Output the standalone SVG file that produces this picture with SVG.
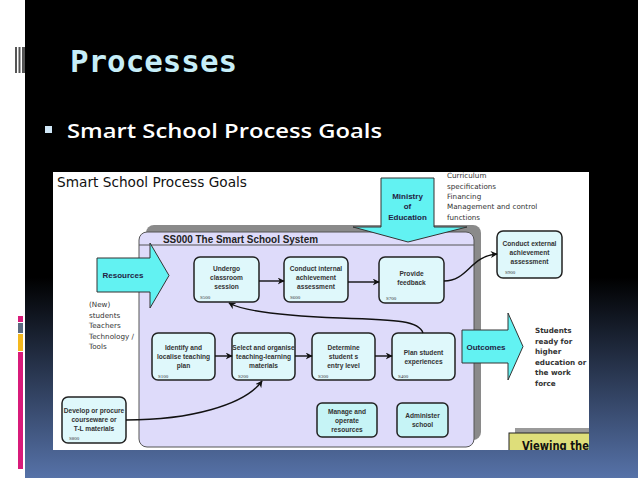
<svg xmlns="http://www.w3.org/2000/svg" width="638" height="478" viewBox="0 0 638 478">
<defs>
<linearGradient id="bg" x1="0" y1="0" x2="0" y2="478" gradientUnits="userSpaceOnUse">
<stop offset="0" stop-color="#000"/>
<stop offset="0.58" stop-color="#000"/>
<stop offset="1" stop-color="#5672a8"/>
</linearGradient>
<clipPath id="panelClip"><rect x="53" y="172" width="536" height="278"/></clipPath>
<marker id="ah" viewBox="0 0 10 10" refX="9" refY="5" markerWidth="7" markerHeight="7" markerUnits="userSpaceOnUse" orient="auto">
<path d="M0,0 L10,5 L0,10 L3,5 Z" fill="#111"/>
</marker>
<style>
.node rect{fill:#dff8fb;stroke:#222;stroke-width:1.5}
.node.alt rect{fill:#c6f4f6}
.nt{font-family:"Liberation Sans",Arial,sans-serif;font-weight:bold;font-size:6.6px;fill:#333;text-anchor:middle}
.code{font-family:"Liberation Serif",serif;font-size:5px;fill:#333}
.conn{fill:none;stroke:#111;stroke-width:1.4;marker-end:url(#ah)}
.barrow{fill:#62f2f2;stroke:#333;stroke-width:1}
.bl{font-family:"Liberation Sans",Arial,sans-serif;font-weight:bold;font-size:8px;fill:#224;text-anchor:middle}
.comic{font-family:"DejaVu Sans",sans-serif;font-size:7.2px;fill:#333}
</style>
</defs>
<rect width="638" height="478" fill="url(#bg)"/>
<rect x="0" y="0" width="25" height="478" fill="#fff"/>
<rect x="15" y="47" width="2" height="26" fill="#555"/>
<rect x="18.5" y="47" width="2" height="26" fill="#555"/>
<rect x="22" y="47" width="3" height="26" fill="#555"/>
<rect x="18" y="316" width="5" height="6" fill="#d81b7a"/>
<rect x="18" y="323" width="5" height="10" fill="#5a6a80"/>
<rect x="18" y="334" width="5" height="17" fill="#f4b81e"/>
<rect x="18" y="352" width="5" height="117" fill="#d81b7a"/>

<text x="70" y="72" font-family="DejaVu Sans Mono,monospace" font-weight="bold" font-size="30" fill="#c6eef8" textLength="167" lengthAdjust="spacingAndGlyphs">Processes</text>
<rect x="45" y="126" width="7" height="7" fill="#cfe6f6"/>
<text x="67" y="138" font-family="Open Sans,sans-serif" font-weight="600" font-size="20" fill="#fff" textLength="315" lengthAdjust="spacingAndGlyphs">Smart School Process Goals</text>

<rect x="53" y="172" width="536" height="278" fill="#fff"/>
<g clip-path="url(#panelClip)">
<text x="57" y="187" font-family="DejaVu Sans,sans-serif" font-size="13.5" fill="#111" textLength="190" lengthAdjust="spacingAndGlyphs">Smart School Process Goals</text>

<g id="system">
<rect x="146" y="225" width="335" height="215" rx="8" fill="#8a8a8a"/>
<rect x="139" y="232" width="335" height="215" rx="8" fill="#dedbfa" stroke="#555" stroke-width="1"/>
<line x1="139" y1="245" x2="474" y2="245" stroke="#555" stroke-width="1"/>
<text x="163" y="243" font-family="Liberation Sans,Arial,sans-serif" font-weight="bold" font-size="10.5" fill="#222" textLength="155" lengthAdjust="spacingAndGlyphs">SS000 The Smart School System</text>
</g>

<g id="resources">
<polygon class="barrow" points="97,258 150,258 150,243 169,275.5 150,308 150,292 97,292"/>
<text class="bl" x="123" y="278">Resources</text>
</g>
<text class="comic"><tspan x="89" y="307">(New)</tspan><tspan x="89" y="317.5">students</tspan><tspan x="89" y="328">Teachers</tspan><tspan x="89" y="338.5">Technology /</tspan><tspan x="89" y="349">Tools</tspan></text>

<g id="ministry">
<polygon class="barrow" points="381,178 434,178 434,227 467,227 408,242 353,227 381,227"/>
<text class="bl"><tspan x="407.5" y="199">Ministry</tspan><tspan x="407.5" y="209">of</tspan><tspan x="407.5" y="220">Education</tspan></text>
</g>
<text class="comic"><tspan x="447" y="178">Curriculum</tspan><tspan x="447" y="188.5">specifications</tspan><tspan x="447" y="199">Financing</tspan><tspan x="447" y="209">Management and control</tspan><tspan x="447" y="219.5">functions</tspan></text>

<g id="outcomes">
<polygon class="barrow" points="462,330 508,330 508,313 523,346.5 508,380 508,363 462,363"/>
<text class="bl" x="486" y="349.5">Outcomes</text>
</g>
<text class="comic" font-weight="bold"><tspan x="535" y="333">Students</tspan><tspan x="535" y="343.5">ready for</tspan><tspan x="535" y="354">higher</tspan><tspan x="535" y="364.5">education or</tspan><tspan x="535" y="375">the work</tspan><tspan x="535" y="385.5">force</tspan></text>

<g id="s500" class="node"><rect x="194" y="257" width="65" height="45" rx="6"/>
<text class="nt"><tspan x="226.5" y="271">Undergo</tspan><tspan x="226.5" y="280">classroom</tspan><tspan x="226.5" y="289">session</tspan></text>
<text class="code" x="200" y="299">S500</text></g>

<g id="s600" class="node"><rect x="284" y="257" width="64" height="45" rx="6"/>
<text class="nt"><tspan x="316" y="271">Conduct internal</tspan><tspan x="316" y="280">achievement</tspan><tspan x="316" y="289">assessment</tspan></text>
<text class="code" x="290" y="299">S600</text></g>

<g id="s700" class="node"><rect x="379" y="257" width="65" height="46" rx="6"/>
<text class="nt"><tspan x="411.5" y="276">Provide</tspan><tspan x="411.5" y="285">feedback</tspan></text>
<text class="code" x="386" y="300">S700</text></g>

<g id="s900" class="node"><rect x="497" y="231" width="65" height="47" rx="6"/>
<text class="nt"><tspan x="529.5" y="246">Conduct external</tspan><tspan x="529.5" y="255">achievement</tspan><tspan x="529.5" y="264">assessment</tspan></text>
<text class="code" x="505" y="274">S900</text></g>

<g id="s100" class="node"><rect x="152" y="333" width="63" height="47" rx="6"/>
<text class="nt"><tspan x="183.5" y="350">Identify and</tspan><tspan x="183.5" y="359">localise teaching</tspan><tspan x="183.5" y="368">plan</tspan></text>
<text class="code" x="158" y="378">S100</text></g>

<g id="s200" class="node"><rect x="232" y="333" width="63" height="47" rx="6"/>
<text class="nt"><tspan x="263.5" y="350">Select and organise</tspan><tspan x="263.5" y="359">teaching-learning</tspan><tspan x="263.5" y="368">materials</tspan></text>
<text class="code" x="238" y="378">S200</text></g>

<g id="s300" class="node"><rect x="312" y="333" width="63" height="47" rx="6"/>
<text class="nt"><tspan x="343.5" y="350">Determine</tspan><tspan x="343.5" y="359">student s</tspan><tspan x="343.5" y="368">entry level</tspan></text>
<text class="code" x="318" y="378">S300</text></g>

<g id="s400" class="node"><rect x="392" y="333" width="63" height="47" rx="6"/>
<text class="nt"><tspan x="423.5" y="355">Plan student</tspan><tspan x="423.5" y="364">experiences</tspan></text>
<text class="code" x="398" y="378">S400</text></g>

<g id="manage" class="node alt"><rect x="317" y="403" width="60" height="34" rx="5"/>
<text class="nt"><tspan x="347" y="414">Manage and</tspan><tspan x="347" y="423">operate</tspan><tspan x="347" y="432">resources</tspan></text></g>

<g id="administer" class="node alt"><rect x="397" y="403" width="51" height="34" rx="5"/>
<text class="nt"><tspan x="422.5" y="418">Administer</tspan><tspan x="422.5" y="427">school</tspan></text></g>

<g id="s800" class="node"><rect x="62" y="397" width="64" height="46" rx="6"/>
<text class="nt"><tspan x="94" y="413">Develop or procure</tspan><tspan x="94" y="422">courseware or</tspan><tspan x="94" y="431">T-L materials</tspan></text>
<text class="code" x="69" y="440">S800</text></g>

<g id="connectors">
<path class="conn" d="M259,281 L284,281"/>
<path class="conn" d="M348,282 L379,282"/>
<path class="conn" d="M444,281 C468,281 470,256 497,254"/>
<path class="conn" d="M215,356 L232,356"/>
<path class="conn" d="M295,356 L312,356"/>
<path class="conn" d="M375,356 L392,356"/>
<path class="conn" d="M423,333 C419,321 400,320 340,318 C285,316 245,312 229,303"/>
<path class="conn" d="M126,420 C190,420 245,405 262,381"/>
</g>

<g id="viewing">
<rect x="515" y="428" width="80" height="30" fill="#9a9a9a"/>
<rect x="509" y="433" width="100" height="30" fill="#dede7a" stroke="#222" stroke-width="1"/>
<text x="522" y="450" font-family="DejaVu Sans,sans-serif" font-weight="bold" font-size="11.5" fill="#111" textLength="67" lengthAdjust="spacingAndGlyphs">Viewing the</text>
</g>
</g>
</svg>
